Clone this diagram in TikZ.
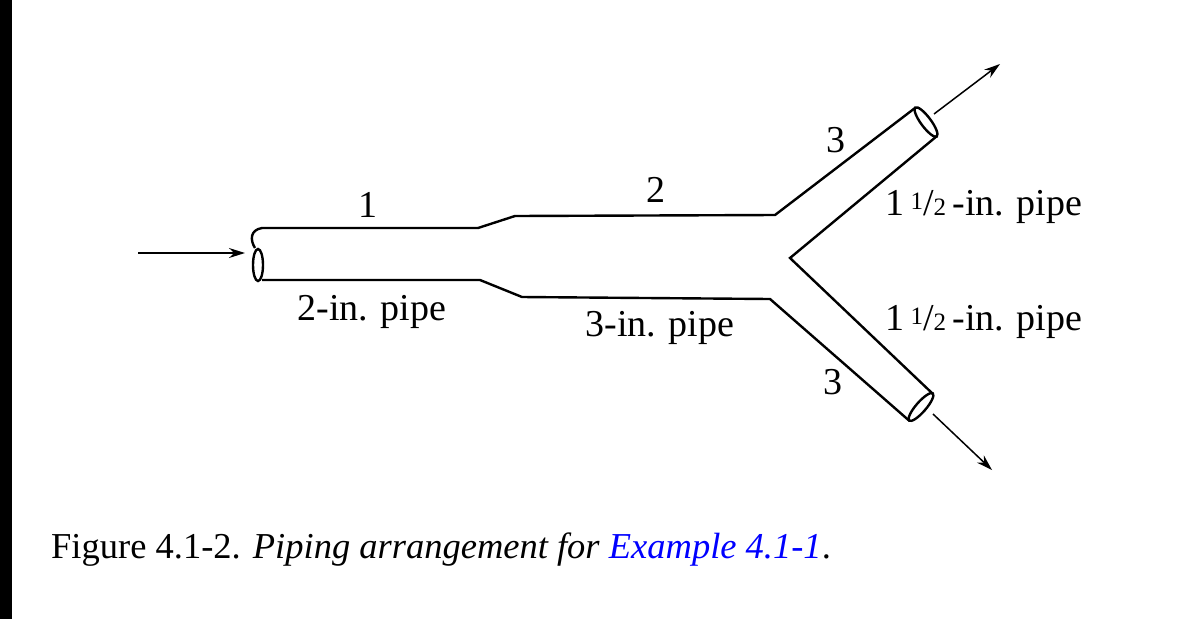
\documentclass[tikz,border=0pt]{standalone}
\usepackage{fontspec}
\setmainfont{Liberation Serif}
\usetikzlibrary{arrows.meta}
\begin{document}
\begin{tikzpicture}[x=1pt,y=-1pt,line width=2.4pt,
  lbl/.style={font=\fontsize{38}{40}\selectfont,inner sep=0pt},
  arr/.style={line width=1.5pt,-{Stealth[length=16pt,width=10pt]}}]
\useasboundingbox (0,0) rectangle (1180,619);
\fill[black] (0,0) rectangle (12,619);
\draw (255,248) .. controls (250,240) and (250,230) .. (262,228) -- (478,228) -- (515,216) -- (775,215) -- (915,108);
\draw (258,265) ellipse [x radius=5, y radius=16];
\draw (262,280) -- (480,280) -- (522,297) -- (770,299) -- (909,420.5);
\draw (937,136) -- (790,258) -- (933,394);
\draw (926,122) ellipse [x radius=5, y radius=18, rotate=36.7];
\draw (921,407) ellipse [x radius=5, y radius=18, rotate=-41];
\coordinate (a0) at (138,253); \coordinate (a1) at (245,253);
\coordinate (b0) at (934,114); \coordinate (b1) at (1000,64);
\coordinate (c0) at (933,414); \coordinate (c1) at (992,470);
\draw[arr] (a0) -- (a1);
\draw[arr] (b0) -- (b1);
\draw[arr] (c0) -- (c1);
\node[lbl] (n1) at (368,205) {1};
\node[lbl] (n2) at (656,190) {2};
\node[lbl] (n3) at (836,140) {3};
\node[lbl] (n4) at (833,382) {3};
\node[lbl] (p1) at (372,312) {2-in. pipe};
\node[lbl] (p2) at (660,328) {3-in. pipe};
\node[lbl,anchor=west] (p3) at (884,207) {1\,\raisebox{0.35ex}{\fontsize{25}{25}\selectfont 1}/{\fontsize{25}{25}\selectfont 2}\,-in. pipe};
\node[lbl,anchor=west] (p4) at (884,322) {1\,\raisebox{0.35ex}{\fontsize{25}{25}\selectfont 1}/{\fontsize{25}{25}\selectfont 2}\,-in. pipe};
\node[font=\fontsize{36.5}{40}\selectfont,anchor=west,inner sep=0pt] (cap) at (50,550) {Figure 4.1-2. \textit{Piping arrangement for} \textcolor{blue}{\textit{Example 4.1-1}}.};
\end{tikzpicture}
\end{document}
